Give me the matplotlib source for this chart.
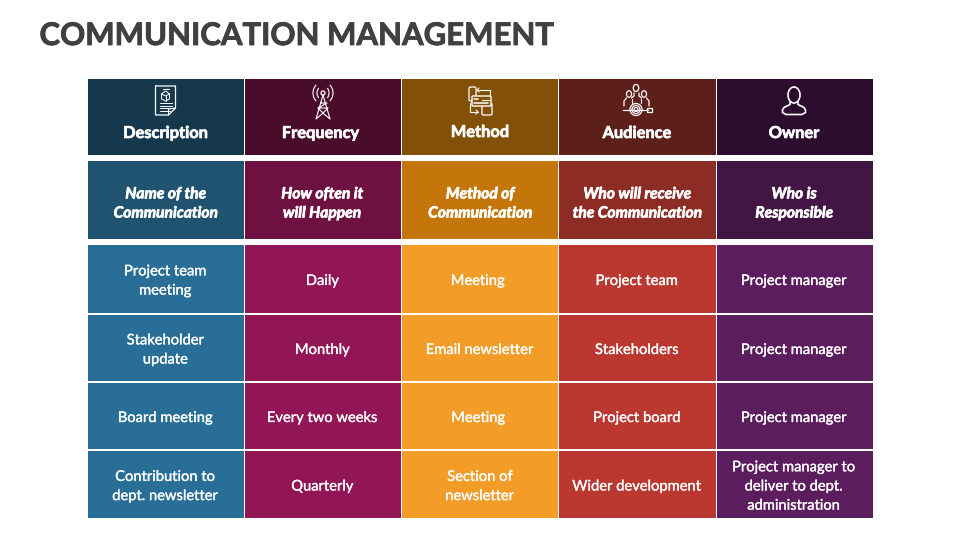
import matplotlib
matplotlib.use("Agg")
import matplotlib.pyplot as plt
import matplotlib.patheffects as pe
from matplotlib.patches import Rectangle, Ellipse, Arc, FancyBboxPatch

plt.rcParams['font.family'] = ['Lato', 'DejaVu Sans']

title = "COMMUNICATION MANAGEMENT"
headers = ["Description", "Frequency", "Method", "Audience", "Owner"]
subheaders = ["Name of the\nCommunication", "How often it\nwill Happen", "Method of\nCommunication",
	"Who will receive\nthe Communication", "Who is\nResponsible"]
rows = [
	["Project team\nmeeting", "Daily", "Meeting", "Project team", "Project manager"],
	["Stakeholder\nupdate", "Monthly", "Email newsletter", "Stakeholders", "Project manager"],
	["Board meeting", "Every two weeks", "Meeting", "Project board", "Project manager"],
	["Contribution to\ndept. newsletter", "Quarterly", "Section of\nnewsletter", "Wider development",
		"Project manager to\ndeliver to dept.\nadministration"],
]
header_colors = ["#16384c", "#490c2b", "#835007", "#5d1f19", "#2c0d2e"]
sub_colors = ["#1f5370", "#6e1040", "#c4760b", "#8c2c24", "#421544"]
body_colors = ["#286e97", "#921555", "#f39c27", "#bb3830", "#5c1d5f"]

col_edges = [(88, 244), (245, 401), (402, 558), (559, 716), (717, 873)]
header_band = (79, 155)
sub_band = (161, 239)
row_bands = [(245, 313), (315, 381), (383, 449), (451, 518)]
# text centres, they are not quite the cell centres
header_x = [165.5, 320.5, 480, 637, 794]
sub_x = [165.5, 322, 480, 637, 794]
row_x = [
	[165.5, 322.5, 478, 637, 794],
	[165.5, 322.5, 480, 637, 794],
	[165.5, 322.5, 478.5, 637, 794],
	[165.5, 322.5, 480, 637, 794],
]

fig = plt.figure(figsize=(9.6, 5.4), dpi=100)
ax = fig.add_axes([0, 0, 1, 1])
ax.set_xlim(0, 960)
ax.set_ylim(540, 0)
ax.axis("off")


def cell(x0, x1, y0, y1, color):
	ax.add_patch(Rectangle((x0, y0), x1-x0, y1-y0, facecolor=color, edgecolor="none"))


def stroke(xs, ys, lw=1.0):
	ax.plot(xs, ys, color="white", lw=lw, solid_capstyle="round", solid_joinstyle="round")


def ring(x, y, w, h=None, lw=1.0):
	ax.add_patch(Ellipse((x, y), w, h or w, fill=False, edgecolor="white", lw=lw))


def doc_icon(cx):
	stroke([cx-10, cx+10, cx+10, cx+3, cx-10, cx-10], [86, 86, 108, 115, 115, 86], 0.9)
	stroke([cx+3, cx+3, cx+10], [115, 109, 108], 0.8)
	stroke([cx-3, cx+3], [89, 89], 0.8)
	stroke([cx-4, cx, cx+4, cx+4, cx, cx-4, cx-4, cx, cx+4], [94, 91, 94, 99, 101, 99, 94, 96, 94], 0.7)
	stroke([cx, cx], [96, 101], 0.7)
	for y, dx in zip([103, 105.5, 108, 110.5], [6, 6, 6, 4]):
		stroke([cx-6, cx+dx], [y, y], 0.7)


def tower_icon(cx):
	ring(cx, 93, 4, lw=0.9)
	stroke([cx, cx-7, cx-1, cx+5, cx-5, cx+4, cx-2], [95, 119, 114, 108, 108, 103, 103], 0.8)
	stroke([cx, cx+7, cx+1, cx-5], [95, 119, 114, 108], 0.8)
	for r, lw in [(7, 0.8), (11, 0.8)]:
		ax.add_patch(Arc((cx, 93), r*2-2, r*2, theta1=130, theta2=230, color="white", lw=lw))
		ax.add_patch(Arc((cx, 93), r*2-2, r*2, theta1=-50, theta2=50, color="white", lw=lw))


def method_icon(cx, fill):
	# left phone
	ax.add_patch(FancyBboxPatch((cx-11, 87), 7, 14, boxstyle="round,pad=0,rounding_size=1.5",
		fill=False, edgecolor="white", lw=0.9))
	# lower right phone
	ax.add_patch(FancyBboxPatch((cx+2, 103), 10, 12, boxstyle="round,pad=0,rounding_size=1.5",
		fill=False, edgecolor="white", lw=0.9))
	# card in the middle
	ax.add_patch(FancyBboxPatch((cx-8, 96), 19, 10, boxstyle="round,pad=0,rounding_size=1",
		facecolor=fill, edgecolor="white", lw=1.0))
	stroke([cx-6, cx-2], [99, 99], 1.1)
	stroke([cx+2, cx+9], [99.5, 99.5], 0.8)
	stroke([cx-6, cx+8], [103, 103], 1.1)
	# arrows
	stroke([cx-3, cx+10, cx+10], [90, 90, 95], 0.8)
	stroke([cx-1, cx-3, cx-1], [88, 90, 92], 0.8)
	stroke([cx-10, cx-10, cx-2], [103, 112, 112], 0.8)
	stroke([cx-4, cx-2, cx-4], [110, 112, 114], 0.8)


def audience_icon(cx):
	for dx, y, w, h in [(-8, 94, 5, 6.5), (-1, 88, 5.5, 7), (7, 94, 5, 6.5)]:
		ring(cx+dx, y, w, h, lw=0.9)
	stroke([cx-13, cx-13, cx-10.5], [106, 101, 98], 0.9)
	stroke([cx+12, cx+12, cx+9.5], [106, 101, 98], 0.9)
	stroke([cx-5.5, cx-3, cx-3], [98, 96, 93], 0.9)
	stroke([cx+4.5, cx+2, cx+2], [98, 96, 93], 0.9)
	stroke([cx-5, cx-5], [99, 103], 0.8)
	stroke([cx+4, cx+4], [99, 103], 0.8)
	for d in [12, 8, 4]:
		ring(cx-1, 109.5, d, lw=0.9)
	stroke([cx-14, cx+11], [109.5, 109.5], 0.9)
	stroke([cx+10, cx+15, cx+15, cx+10, cx+10], [107.5, 107.5, 111.5, 111.5, 107.5], 0.9)


def person_icon(cx):
	ring(cx, 95, 12, 16, lw=1.2)
	stroke([cx-4, cx-4, cx-10, cx-11.5, cx-11.5, cx-8, cx+8, cx+11.5, cx+11.5, cx+10, cx+4, cx+4],
		[102, 104.5, 107.5, 110, 112.5, 114.5, 114.5, 112.5, 110, 107.5, 104.5, 102], 1.2)


heavy = [pe.withStroke(linewidth=0.5, foreground="white")]
medium = [pe.withStroke(linewidth=0.2, foreground="white")]

for c, (x0, x1) in enumerate(col_edges):
	cell(x0, x1, header_band[0], header_band[1], header_colors[c])
	cell(x0, x1, sub_band[0], sub_band[1], sub_colors[c])
	ax.text(header_x[c], 134 if c != 2 else 133, headers[c], color="white", fontsize=11.8, fontweight="bold",
		ha="center", va="center", path_effects=heavy)
	ax.text(sub_x[c], 204, subheaders[c], color="white", fontsize=11.2, fontweight="bold", style="italic",
		ha="center", va="center", linespacing=1.47, path_effects=heavy)
	for r, (y0, y1) in enumerate(row_bands):
		cell(x0, x1, y0, y1, body_colors[c])
		ax.text(row_x[r][c], (y0+y1)/2.0+2.0, rows[r][c], color="white", fontsize=10.6,
			ha="center", va="center", linespacing=1.47, path_effects=medium)

doc_icon(165.5)
tower_icon(323)
method_icon(480, header_colors[2])
audience_icon(637)
person_icon(794)

ax.text(39.5, 36, title, color="#404040", fontsize=22.4, fontweight="bold", ha="left", va="center",
	path_effects=[pe.withStroke(linewidth=0.6, foreground="#404040")])

fig.savefig("out.png", dpi=100)
plt.close(fig)
